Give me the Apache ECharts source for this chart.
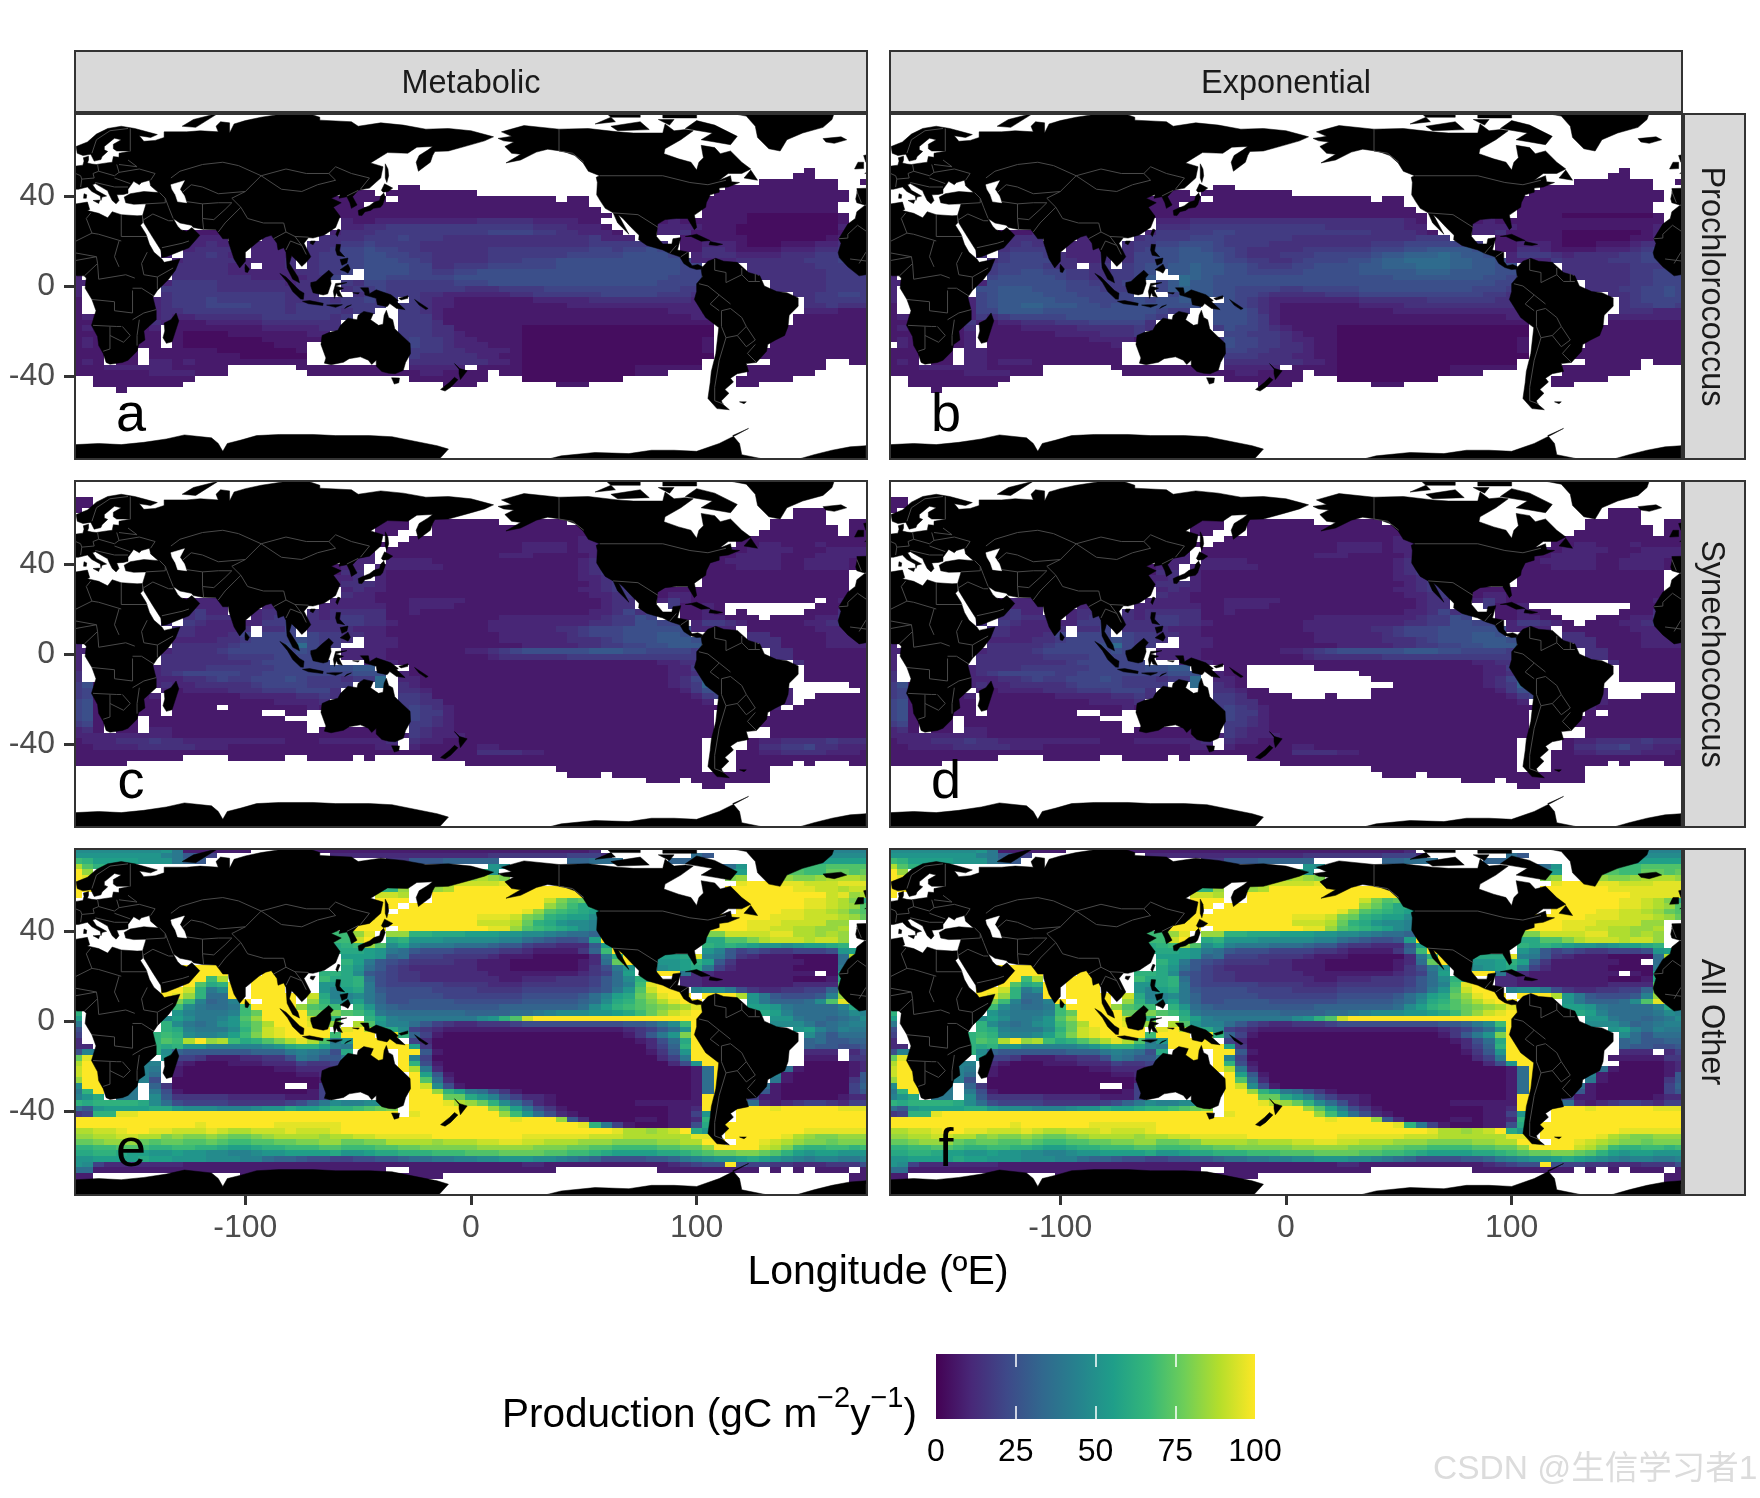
<!DOCTYPE html>
<html><head><meta charset="utf-8">
<script src="https://cdn.jsdelivr.net/npm/echarts@6/dist/echarts.min.js"></script>
<style>html,body{margin:0;padding:0;background:#fff}#c{width:1760px;height:1498px}</style></head>
<body><div id="c"></div>
<script>
// Value codes: a=0, b, c ... (step per panel family below), "." = no data, "-" = a group of ten "." ; each row: 7 groups of 10 columns + 1
const columnCentres=[-175,-170,-165,-160,-155,-150,-145,-140,-135,-130,-125,-120,-115,-110,-105,-100,-95,-90,-85,-80,-75,-70,-65,-60,-55,-50,-45,-40,-35,-30,-25,-20,-15,-10,-5,0,5,10,15,20,25,30,35,40,45,50,55,60,65,70,75,80,85,90,95,100,105,110,115,120,125,130,135,140,145,150,155,160,165,170,175];
const colorTicks=[0,25,50,75,100];
const lonTicks=[-100,0,100];
const latTicks=[-40,0,40];
const columnTitles=["Metabolic","Exponential"];
const rowTitles=["Prochlorococcus","Synechococcus","All Other"];
const panelLetters=["a","b","c","d","e","f"];
const cyanoCodeStep=3.5, otherCodeStep=4;

const prochMetabolicStart=10;
const prochMetabolic=[
"- - - - - - .....c.... .",
"- - - - - - ....cc.... .",
"- - - - - - .ccccccc.. c",
"- - .........c c......... - ........cc cccccccc.. .",
"- - .....cc.cc cccccc.... - .......ccc ccccccccc. .",
"- - ...ccccc.c cccccccccc ccc.cc.... ......cccc ccccccccc. .",
"- - ...ccc.ccc cccccccccc cccccc.... ......cccc cccccccc.. .",
"- - ...ccccccc cccccccccc ccccccc... ......cccc cccccccc.. .",
"- - ...ccccccc cccccccccc cccccccc.. ......cccc bbbbbbbbc. .",
"- - ....dccddd ddddddeeee eddddcc... ..cdcc.ccc bbbbbbbbc. .",
"- - ....ddeeff ffffffffff feeedddc.. ..dddd.ccb bbbbbbbbd. .",
"- ccccc..... ....eeefff fffffffggg gffeedddc. ..dde.cccb bbbbbbbbcd .",
"- cddd....dd ..eeeefffg fffeeeeeee eeeeeefddd .....dcccc bbbbbbbcde .",
"- ddedd..ddc ..eeffgfff feeeeeeeee eeeeeeffff ffe...dddc bbbcccddef .",
"- deeee..ddd ..efgghggf feeeeeefff ffffffggfg ghg...eedc cccdddeefg .",
"........d. eefed..ddd ..ffgghhgg ffeeeeefff ffffgggggh hhhg..eeed dddeeefffg .",
".........d eeeeedddde ..ffgghhhg gfeeeeefff ggghhhhhhh hhhhg....e eeeeefffgg .",
".........e eeeedd.dde .effgghhhh ggeefffggg ggghhhhhhh hhhhgg.... ..eeeeffff .",
".........e eeeedddddd eeffg.hhhh ggffgghhhh hhhhhhhhhh hhhhggg... ...eeeefff f",
"d........e eeeeeedddd deeg..hhgg gggghhhhhh hhhhhhhhhh hhhggg.... ...eeeefff f",
"dd.......f fffeeeeeed eee.feggff ffffggghhh hhhhhhhhhh hhggggf... ....eeefff f",
"d.......ff fffeeeeeee ee..effgff fffffeeeff ffgggggggg ggggfff... ....eeefff f",
"d.......ef fffffffffe ee...efgff feedddddde effffffggg ggfffe.... .....effgg f",
"c.......ef ffgffffffe eefeffgff. feddcccccc cdddddeeee eeeeed.... .....effff f",
"c.......ef ffggggfffe ffffffff.f feddcccccc ccccdddddd dddddd.... .....eefee e",
"c.......ee fffffffffe ffffe....f fedccccccc cccccccccc cccdddc... .....dddcc c",
"cd......ed deeeeeefff fffe.....f ffdccccccc cccccccccc cccccdd... ....cccccc c",
"cc.....edc ccdddddeee eee......f ffeccccccc cccccccccc ccccccc... ....cccccc c",
"cd.....d.c cccccccddd dde....... ffeecccccc bbbbbbbbbb bbbbbbb... ...ccccccc c",
"cc.....c.c bbbbcccccc cdd......f ffeedccccc bbbbbbbbbb bbbbbbb... ...ccccccc c",
"cd.....c.c bbbbbbbccc cc........ gffeddcccc bbbbbbbbbb bbbbbbc... ..cccccccc c",
"cd.....c.c bbbbbbbbcc c......... gffedddccc bbbbbbbbbb bbbbbbc... ..cccccccc c",
"cc.....ccc cccbbbbbbb c......... fffeeddddc bbbbbbbbbb bbbbbbc... .ccccccccc c",
"cc.....ccc cccccbbbbb b......... feeeeeddcc bbbbbbbbbb bbbbbbb... .ccccccccc c",
"cd.....ddc dccccccccc c......... eeeeeeeddc bbbbbbbbbb bbbbbb.... ..ccccc..c c",
"cccddddddc cccc...... ccc....... ddddd.cccc bbbbbbbbbb cccccc.... ccccccc... .",
"cccccccddd dccc...... .ccc...... cddd..c.cc bbbbbbbbbb ccc....... cccccc.... .",
"..cccccccc c......... - ccccc.c... bbbbbbbbb. .........c cccc...... .",
"..cccccccc - - ...ccc.... ...ccc.... .........c c......... .",
"....c..... - - - - - - ."
];

const prochExponentialMiddle=[
"- - ....dddeee eeeeeeeeee eeeeeedc.. ..cdcc.ccc ccccccccc. .",
"- - ....eeefff fffffffffe eeeeeedd.. ..dddd.ccc ccccccccd. .",
"- cccd...... ....fffffg gfffffffff fffeeeedc. ..dde.cccc bbbbbbbcd. .",
"- deee....dd ..effffggg ffffffeeee eeeeeeefff .....dcccc bbbbbbccde .",
"- eefee..ddc ..ffgghhhg ffffeeeeee eeefffgggg ggf...dddc bbbcccdeef .",
"- effff..ddd ..fghhiihg gfeeeeefff fffggghhii iih...eedc cccdddefgg .",
"........e. fgggfe.dde ..gghhiiih gfeeefffgg ggghiijjjk jiih..fffe deeeeffggg .",
".........e fggggeedde ..gghhiiih ggffeefggg ghhijjkkkk jjiih....f eeeefffggg .",
".........f ggggfee.ef .fghhiijii hhgfffgghh hhiijjjkkk jjiihh.... ..eeeefffg .",
".........f gghhggffee ffgh.iijii hhggggghhh hhiiiiijjj iiiihhg... ...eeeffgg g",
"d........g hhhhhgffee ffgi..kjih hhhhhhhhhh hhhhhiiiii iiihhg.... ...eeeffgg g",
"dd.......h hhhhhhggff fgh.gikiih hhhhhhhhhh hhhhhhhhhh hhhhggf... ....eeffgg g",
"d.......hh iiihhhgggf ff..gijiih hggggffggg gghhhhhhhh hhgggff... ....effggh g",
"d.......gh iiiihhhggg gg...gijih hggfeeeeef ffgggggggg gggffe.... .....efggh g",
"d.......gh iiiiihhhgg gghghhii.. hgfedddddd ddeeeeeeff ffffee.... .....efggg g",
"c.......gh iijjiiihhg hhhhhhhh.h hgfedccccc ccddddeeee eeeeee.... .....effgg f",
"c.......gg iiiihhhhhh hhhhg....h hhgedccccc cccccddddd ddddddd... .....eeedd d",
"cd......fe fggggghhhh hhhg.....h hhgfdccccc cccccccccc cccccdd... ....dddddd d",
"cc.....fdc ddeeefffgg ggg......h hhgfdccccc cccccccccc ccccccc... ....cccccc c",
"cd.....e.c ccdddddeee eef......h hggfedcccc bbbbbbbbbb bbbbbbb... ...ccccccc c",
"cc.....d.c cccccdddde eef....... ggfffedccc bbbbbbbbbb bbbbbbb... ...ccccccc c",
"cd.....d.c ccccccccdd dd........ hggffeddcc bbbbbbbbbb bbbbbbc... ..cccccccc c",
".d.....d.c cccccccccc d......... hggffeedcc bbbbbbbbbb bbbbbbc... ..cccccccc c",
"cc.....ddc cccccccccc c......... ggffeeedcc bbbbbbbbbb bbbbbbc... .ccccccccc c",
"cc.....ddc cccccccccc c......... fffeeeddcc bbbbbbbbbb bbbbbbb... .ccccccccc c",
"cd.....ddc dddccccccc c......... eeeeeeeddc bbbbbbbbbb bbbbbb.... ..ccccc.cc c"
];
const prochExponential=[...prochMetabolic.slice(0,9),...prochExponentialMiddle,...prochMetabolic.slice(35)];

const synMetabolicStart=3;
const synMetabolic=[
"cc........ - - - - - - .",
"cc........ - - - - - - .",
"c......... - - - - - ....ccc... .",
"- - - - - - ....ccc... .",
"- - .......ccc ..cccccc.. cccc...... - ..ccccc..c c",
"- - .......ccc ..cccccccc ccccccc... - ..cccccc.c c",
"- - .......cc. ..cccccccc cccccc.... - .ccccccc.c c",
"- - - cccccccccc cccccdd... .........c cccccccccc c",
"- - .......c.c cccccccccc ddddcddd.. .........c cddcccdccc c",
"- - .....cc.cc cccccccccc ddddcddf.. .......cdc ddddcccddd d",
"- - .....cd.cc ccccccccdd dcccccdf.. .......ccd dddcccdddd d",
"- - .....dd.dd ddcccccccc cccccdeg.. ......ccdd dddccddddc .",
"- - ...cdd.ddd dddccccccc cccccdef.. ......cccd dddccddddc .",
"- - ...cee.dcc cccccccccc cccccdefg. ......cccc ccccccccc. .",
"- - ...dde.dcc cccccccccc cccccddef. ......cccc ccccccccc. .",
"- - ...deeedcc cccccccccc ccccccdefg ......cccc ccccccccc. .",
"- - ....deddcc cccccccccc cccccddeff ..cccc.ccc ccccccccc. .",
"- - ....eddccc cccccccccc ccccccddef ..cddc.ccc ccccccccc. .",
"- cddd...... ....dddccc dddddccccc cccccccdee ..dfdccccc cccccc.cdd .",
"- dddd....ee ..ddddddcc ddddcccccc cccccccdee ...fe.dc.. ......cccd .",
"- efdd..eeee ..deeeeecc dccccccccc ccccccddeg eg...ddc.c .....ccced .",
"- efeee..eff ..deffeecc ccccccccdd dddddddeff hg...dddcc c.ccccddfh .",
"........e. fedddd.ffg ..eeffeedc cccccccddd ddddddeeff hhgg..ffed cccccddegh .",
".........e edddde.eeg ..eeedddcc cccccccddd dddeefgggh hhhhh..... ccccccddde .",
".........e edddeg.ggg .gffeeddcc ccccccccdd ddddefgggh hhiih..... ..cccccddd .",
".........d dddeefgggg hgffe.dddc ccccccccdd ddddeeefgh hhiiih.... ...ccccddd d",
"d........e eeeefggggh kgff..dddc cccccccccc dddddeeffg ghhiii.... ...ccccddd d",
"dd.......e eeefgggggg hgg.ddddcc cccccddefg hhhhhhiiih hggggfg... ....cccccc c",
"d.......ee eeeeffffgg gg..ddddcc cccccccdee eeeeffffff ffffffg... ....cccccc c",
"d.......ee eeeeeefggg ggg...dddc cccccccccc cccccccccc ccddeeg... .....ccccc c",
"d.......ee eeffffffgg ggghhii... cccccccccc cccccccccc cccddfh... .....ccccc c",
"e.......ef gggggffggg ggggghhh.d cccccccccc cccccccccc cccddei... .....ccccc c",
"e.......dd eefgffgggh gfffe..k.d dccccccccc cccccccccc cccdegj... .....ccccc c",
"fh......ed deeeeefggg gfffe..k.e dccccccccc cccccccccc cccdefjj.. .........c c",
"fg......dc ddddeeefff ggg......e edcccccccc cccccccccc ccccdfhi.. ...d...... c",
"fg.....d.c cccccddddd eef......f fecccccccc cccccccccc cccccdfg.. ...d..cccc c",
"gh.....c.c ccccccccdd dde......f feeccccccc cccccccccc ccccccd... ...d.ccccc c",
"gh.....c.c ccc.cccccc cd.......f gfedcccccc cccccccccc cccccccc.. ..d.cccccc c",
"gh.....c.c ccccccc..c c......... gffdcccccc cccccccccc ccccccc... ..cccccccc c",
"gh.....ccc ccccccccc. - gfedcccccc cccccccccc ccccccc... .ccccccccc c",
"fg.....ccc cccccccccc c......... ffedcccccc cccccccccc ccccccc... .ccccccccc c",
"de.....ddc cccccccccc c......... feddcccccc cccccccccc ccccccc... ..cccccccc c",
"dddddddddc cccccccccc cc......dd fedddccccc cccccccccc ccccccc... ..cccccccc c",
"cdddeeefee dddddddddc ccdddddde. edd...cccc cccccccccc cccccc.... cddeeeefee e",
"ccddddeeee edddcccccc cccccccdd. dcc...ddcc cccccccccc cccccc.... ceeffgeedd d",
"cccccccccc cccccccccc cccccccccc ccccc.eeee ddcccccccc cccccc...c cddeeeeddd c",
"cccccccccc ....ccccc. .cccc.c... ..cccccccc cccccccccc cccccc...c cccccccccc c",
"ccccc..... - - .....ccccc cccccccccc cccccc...c cccc.c...c c",
"- - - - ...ccccccc cccccc...c cc........ .",
"- - - - ....ccc.cc cccccccccc cc........ .",
"- - - - - .ccc.ccccc cc........ .",
"- - - - - ......cc.. - ."
];
// Cells next to coasts: [firstRow,lastRow,firstCol,lastCol,code]
const coastCells=[
[36,44,2,2,"c"],[33,36,7,7,"d"],[30,30,8,8,"d"],[38,41,6,6,"c"],[41,44,5,5,"c"],[42,44,4,4,"c"],
[27,27,60,61,"e"],[28,28,60,62,"e"],[29,29,61,62,"e"],[30,31,62,63,"e"],[32,32,64,64,"e"],
[23,25,16,16,"d"],[22,22,17,17,"d"],[23,26,21,21,"e"],[21,21,23,23,"d"],
[19,20,56,56,"c"],[21,21,55,55,"c"],[22,24,54,55,"c"],[25,25,55,55,"d"],[26,26,55,58,"d"],
[46,48,33,35,"c"],[35,35,25,26,"f"],[36,36,24,24,"f"],[37,38,23,23,"e"],[40,40,22,22,"c"],[38,38,29,29,"f"],[40,40,29,29,"f"]
];
const prochCoastCells=[...coastCells,[45,45,22,27,"c"],[46,46,22,29,"c"]];
const synCoastCells=[...coastCells,[44,45,22,27,"c"]];
// Exponential Synechococcus: same field as Metabolic except these cells
const synExponentialCells=[
[40,40,13,13,"c"],[21,21,66,66,"c"],[22,22,57,65,"."],[23,23,58,58,"c"],[23,23,59,64,"."],[24,24,60,62,"."],[25,25,61,61,"."],
[36,37,64,69,"."],[38,38,64,66,"."],[39,39,64,64,"c"],[40,40,63,63,"c"],[41,41,63,63,"."],
[33,33,32,37,"."],[34,34,32,41,"."],[35,35,32,42,"."],[36,36,32,44,"."],[37,37,34,42,"."],[38,38,36,38,"."],[38,38,40,42,"."],
[51,51,43,44,"c"],[53,53,50,50,"."]
];

const otherMetabolicStart=0;
const otherMetabolic=[
"mmmmmmmmnk cccccc.... .ccccccccc cccccccccc ccccccd... - ......llll l",
"nnnnnnnnlk hhf....... ...ddddddd dddddddeee eeeefffd.. .....jh... ......mmmm m",
"rqoooonnnk ih........ ........ee hhhiiiii.. ....iijjj. ...iij.... ......oooo o",
"wsqpp..... - - .......nm. - .......hjn ....qrrsss s",
"zv........ - - .....qqn.. - ........oo ...ssrrtts t",
"zy........ - - ...uvvwvu. - ........uv ...vuuvwww v",
"zz........ - - ..wwxxxxyy - .........y zzzyyxxxyy y",
"zz........ - .......qqv ..vwzzzzzz zzzzz..... ........zz zzzzyyxxwx x",
"z......... - .......xxw ..zzzzzzzz zzzzzzz... ........zz zzzzzzzxyv w",
"- - .......zzz ..zzzzzzzz zzxustz... ........zz zzzzzyyxwu p",
"- - .......zz. zzzzzzzzzz zzvtrpqz.. .........z zzzzzyyxwv s",
"- - .......z.z zzzzzzzzzz yvsrqpoz.. .........z zzzyyxxwvt s",
"- - ......wzzz zzzzzzyyyx utqpoomz.. .......zzz zzyyyxxxwv t",
"- - .....zzzzz zzzzzzxxxw tqpnmmlz.. .......zzz yyyxxxxvv. .",
"- - .....zzz.z zzzzzzzyyv srqpomlz.. ......zzzz yyxxwwvvw. .",
"- - ...rrvy.vv qqpppooonn mmlkjjiqz. ......uuxx xxyywwvwv. .",
"- - ...rrxz.pq nnnmmmmmll jihgghoz.. ......ppss uwxxxwxxv. .",
"- - ...pqrvsmo lkkkjjjihh feedddhoz. ......qpqp onnmnoopq. .",
"- - ...ppponkj hgggffffee dcccceirz. ......nlhf gfeefffgno .",
"- - ....ooonij fffeeeedcc cbbbbbdkqz ..oopy.khe dcccbbbbjw .",
"- - ....qokhgf eeeeddcccb bbbbbcdjtz ..nnoqohec cccccbbbjx .",
"- zzzz...... ....pnjhfe ddddddcccb bbbbbcegkn ..mnopkfdc ccccbbbbks .",
"- zzzz...zz. ..qqpmhgfe eddddddccc cccccdefjo .rzzk.dccc cccccc.bot .",
"- zzrw..zzz. ..rppqjgfe edddddddcc dddeeefhjm qr...dcccc ccccbbbcpz .",
"- zspqz.zzz. ..nnpqkgff fffeeeeddd eeeeeefhjl ryz..dcccc ccccddddsz .",
"........zz xqkmz.zzz. ..nlopkhgg ggffffeeee ffffffghkn sxzz..mmkg eddeeffitz .",
"........zy vqjjz.zzzz .xpllmkigg gggfffffff ggggghjlop tvyzz.zzzw nkhggghlvz .",
".........u rlijlz.zzz .vqmmokigg hhhhgggggg hhhhhijmpq suwyzz.... nkiiijmsy. .",
".........r mkjjkrzzzz vsrr.qnjih hhhhhhhhii iiiiijmoqr stuvwyzz.. ..nkjjjjlp .",
"q........n lkkklrtzzz zttusrpkjj jjjjjiiiij jklmmmnnop rtvxyzz... ..oljjjjkm l",
"o.......mo mkklnsvzzz zxvq..qolk kkkkkkmnqs xzzzzzzzzz zzzzzzz... ...nkjjijk m",
"k.......qm kjkmnrtwzz zyuv.wsnll jhfeddeeef gggggggggh hikmrz.... ....mkijkl l",
"g.......qp lkkkmqtxyz zzz.yzwqpm fedccccccc cccccccccd efhjnz.... .....oljlk k",
"f.......rq mllmoruxyz zzzrzzz.yq ifcbbbbbbb bbbbbbbbbc ehknuz.... .....mjhjj j",
"d.......sr wzvwrpqsuw ywsknzzzz. fdbbbbbbbb bbbbbbbbbb cdgjpz.... .....ijhhi i",
"dd......pq nnlllllmnp qqolkzzzzz oebbbbbbbb bbbbbbbbbb bdfiqzz... .....ihhgg h",
"gl......mi hhhhhhiiik lkjgp.zz.z zhcbbbbbbb bbbbbbbbbb bcehnzz... .....ddd.d f",
"ty......nf fecccddeeg kjhhk.zz.z lfbbbbbbbb bbbbbbbbbb bbdfkzzz.. .....ccc.e e",
"wz.....l.d cbbbcccddd feefk....z qgcbbbbbbb bbbbbbbbbb bbbdgnzz.. .....bbbbc d",
"xz.....k.c bbbbbbbbcc ddddf....z wkdbbbbbbb bbbbbbbbbb bbbbbcjz.. ...jcbbbbc d",
"xz.....j.c bbbbbbbbbb ccdh...... zohcbbbbbb bbbbbbbbbb bbbbbcjz.. ..lcbbbbbc h",
"vz.....g.b bbbbbbbbbb bbcf...... zsjdbbbbbb bbbbbbbbbb bbbbbcjz.. ..kcbbbbbe h",
"mzz....ieb bbbbbbbbb. .bf....... zxmgcbbbbb bbbbbbbbbb bbbbbcjz.. .jcbbbbbbf i",
"kqz....kgc bbbbbbbbbb bcf....... zzvqokjgec bbbbbbbbbb bbbbbcjz.. .hcbbbbbbf h",
"lnp....mhe eeeedddddc ccf....... zzzttpnlhf ddcbbbbbbb bbbbbcz... fccbbbbbcd d",
"qpqqqqpmjg ffffeeeeef gikmllmm.. zzzywvtqmj gdcbbbbbbb ccccccz... jdcdeffedf f",
"jhnooooppn mmmlllmnnp oopqqrstu. zzzz..zvso kgecbbbbbb bbbccdz..z zzyzzzzzyy y",
"efqqyyzzzz zzzzzzzzzz zzzzzzzzz. yzzz..zzvr njgdcbbbbb bbbccfn..z zzzzzzzzzz z",
"zzzzzzzzzz zzzzzzzzzz zzzzzzzzzz zzz...zzzy zzzvhdbbbb ccbccdq..z zzzzzzzzzz z",
"zzzzzzzzzz zyzzzzzzyy yyyyzzzzzz zzzz.zzzzz zzzzzyqkfc bbbccgp.zz zzzzzzzzzz z",
"wwxxyzzyyx xxyxwwxxxy xxxyzzzzzz zzzzzzzzzz zzzzzzzzyw wvwxzpn.zz zzzzzyyyyy y",
"vvwwxxwwuv uuvuttuvww wwvwwxxyyy yyzzzzzzzz yyyyyyxxxw wwwwwyy.zz zzzywvuuvv v",
"ttuvvvtstt sstsrrsstt uuvvttuuww wwvwwwxxyy xxwwwvvvuu uuvvwwzz.z zyxwvuutuu u",
"qqrrssrqqr rqqpoopqqr rrssrrrsst tuuuuuvvvv vuuuttssrr rrssttvzzz zxwurqqrrq r",
"ppqqpoonno nnmmllmnno ooopnnoppq qqrrrssstt ttssrrqpoo ooppqrsttu utsqonoonn n",
"nnoooopoon nnmmmlljii hggffgghhi jjkkllmmnn nmmlkjiggg ghhiklmnno ponmlkllkk l",
"nmfddddddd cccccccccc cccccccccc cccccccccc ddcccccccc cccdefgzgg ffeedddeee g",
"jjcccccccc cccccccccc cccccccc.. cccccccccc ccc....... ..cccccccc c.c.c.ccc. c",
"cc........ .....ccccc cccccccccc ccc....... - - .........c c",
"cc........ - - - - - .........c c"
];
const otherCoastCells=[
[36,36,2,2,"k"],[37,41,2,2,"z"],[33,36,7,7,"q"],[38,41,6,6,"l"],[41,44,5,5,"k"],[42,44,4,4,"k"],
[19,19,56,56,"l"],[22,22,55,55,"d"],[23,24,54,54,"d"],[25,25,55,55,"l"],
[28,28,60,61,"o"],[29,29,60,61,"p"],[30,30,62,62,"n"],[31,31,62,63,"m"],[32,32,64,64,"n"],
[46,47,34,35,"z"],[48,48,33,35,"z"],[49,49,34,34,"z"],[56,56,57,57,"g"],[56,56,58,58,"z"]
];
// Exponential All Other: same field as Metabolic except these cells
const otherExponentialCells=[
[22,22,66,66,"c"],[22,22,65,65,"."],[20,20,67,67,"."],[37,37,64,64,"c"],[37,37,68,68,"c"],[19,19,51,53,"p"],
[7,8,66,70,"y"],[35,35,26,28,"z"],[47,47,5,5,"z"]
];

// Simplified coastlines [lon,lat]
const landPolygons=[
[[-5.5,36],[-9,37],[-9.5,38.7],[-8.8,42],[-9,43.3],[-3,43.5],[-1.5,43.5],[-1,45.5],[-2.5,47.3],[-4.7,48.3],[-1.5,48.7],[0.2,49.5],[2,51],[4,52],[5,53.3],[8,53.7],[8.5,55.5],[8.2,57],[10.5,57.7],[10.5,56],[10,54.7],[12,54.2],[14,54],[18.5,54.7],[21,55],[21.5,57.5],[24,57.2],[24,59],[29.5,60],[23,60],[21.5,61],[21.5,63],[25,65],[22,65.7],[17.5,62],[17.5,60.5],[19,59.8],[16.5,57.5],[16,56.2],[13,55.5],[11.5,58.5],[8,58],[5.5,59],[5,62],[10,64],[14,67.5],[19,70],[25,71],[31,70],[41,67.3],[38,66],[33,66.8],[35,64.3],[40,64.7],[44,66],[44,68.5],[54,68.5],[60,69],[68,68.5],[67,71],[69,73],[73,72.5],[73,68],[75,72],[80,73.5],[87,75],[100,77],[105,77.7],[113,75],[113,73.7],[127,73],[130,71],[140,72.5],[150,71.5],[160,69.7],[170,70],[180,69],[190,66.3],[186,64.5],[179,62.5],[170,60],[164,59.8],[163,58],[162,55],[158,52],[156.7,51],[155.7,55],[157,58],[161,60.5],[163,62],[156,61.7],[152,59],[143,59.3],[135.5,54.7],[141,53],[140,48],[135,43.5],[130,42.5],[127.5,39.7],[129.5,36],[127,34.5],[126.3,37],[125,39.7],[121.5,39],[122,40.7],[118,39],[122.5,37],[119,35],[122,31],[120,26],[115,22.7],[110,21.3],[108,21.5],[106,19],[109,13],[107,10.5],[105,8.7],[103,11],[100.5,13.5],[99.5,10],[103.3,4],[104,1.4],[101,3],[98.5,8],[98,15],[97,17],[94.5,16],[94,19],[91.5,22.5],[89,21.8],[86,20],[80,15],[80,11],[77.5,8],[75,12],[72.7,19],[72.5,21],[70,21],[67,25],[61,25.2],[57,26],[56,27],[51,28],[48,30],[50,26.5],[51.5,25],[54,24.2],[56.3,26],[59.8,22.5],[55,17],[45,13],[43,12.7],[42.5,16],[39,21.5],[35,28],[34.5,31.5],[36,36.5],[30.5,36.3],[27,37],[26.3,39.5],[29,41],[35,42],[41.5,41.5],[38,44.5],[37.5,47],[34,46],[33,45],[30.5,46.5],[28,43],[28,41.2],[26,40.7],[23,40.5],[24,38],[22.7,36.5],[21,38],[19.5,41],[19,42.3],[13.5,45.5],[12.3,45],[14,42.5],[18.5,40],[16.5,39.5],[16,38],[15.7,40],[12,42],[10,44],[6,43],[3,43],[3,41.5],[0,39.5],[-0.5,38],[-2,36.8]],
[[-5.5,35.8],[-1,35.5],[10,37.3],[11,34],[10,33.5],[15,32.3],[19,30.3],[21,33],[25,31.7],[32,31.2],[34.3,31.3],[34.5,28],[33.5,27],[36,23],[37.5,18.5],[39.5,15],[43,12],[44,10.5],[51,12],[49,7],[46,3],[41,-2],[39,-5],[40.5,-11],[40.5,-15],[35,-20],[35.5,-24],[32.7,-26],[32,-29],[28,-33],[25.5,-34],[20,-34.8],[18.3,-34],[17,-30],[15,-26.5],[14.5,-22.5],[11.8,-17.5],[13.8,-11],[12,-6],[9,-1],[9.5,3.5],[8.5,4.5],[5.5,4.5],[1,6],[-4,5.2],[-8,4.5],[-13,8.5],[-16.7,12.5],[-17.3,14.8],[-16,19],[-17,21],[-13,27.5],[-9.7,30],[-9,33]],
[[49.3,-12],[50.5,-15.5],[47.5,-24.8],[45,-25.5],[43.5,-23],[44.3,-20],[44,-16.5],[47,-15]],
[[80,9.7],[81.8,7.5],[81,6],[80,6.2],[79.8,8]],
[[95.3,5.6],[98,4],[104,-2],[106,-3.2],[105.7,-5.9],[104.5,-5.8],[101,-2.5],[98.7,1.5]],
[[105.3,-6.8],[108.5,-6.5],[114.5,-7.7],[114.3,-8.7],[108,-7.9]],
[[109,1.5],[111.3,2],[113.8,4.3],[117,7],[119,5],[117.7,3.5],[118,1],[116.5,-3.5],[114.5,-4],[110,-3],[109,0]],
[[119.5,-5.5],[120.4,-3],[121,-4.5],[123,-5],[121.5,-2],[123.5,-1],[120,0],[125,1.5],[120,1.1],[119,-2.5]],
[[120.3,18.5],[122.2,18.4],[121.7,15.5],[124,13],[120.7,13.7],[120,16]],
[[122,7.2],[125.5,9.7],[126.5,7.5],[125.5,5.7],[124,6.5]],
[[122,11.8],[125.5,12.4],[125,10.2],[122.8,9.2]],
[[131,-0.8],[134.5,-0.8],[135,-3.4],[138,-1.7],[144.5,-3.9],[147.8,-6.5],[147,-7],[150.8,-10.5],[147,-10],[144,-7.8],[142.8,-9.2],[138.5,-8.3],[138,-5.5],[133,-4],[132.8,-2.8]],
[[116,-8.5],[119,-8.3],[123,-8.3],[120,-9.5]],
[[124,-10],[127,-8.4],[125,-9]],
[[127.5,-3],[130.5,-3],[130,-3.6]],
[[148,-5.5],[152,-4.3],[152,-5.5],[149,-6.2]],
[[155,-6],[158,-8],[161,-10],[160,-10.5],[157,-8.5]],
[[121,25.3],[122,25],[120.8,22],[120.1,23]],
[[109,20],[111,20],[110,18.3],[108.7,19]],
[[130,33.5],[131,34],[135,35.7],[137,37.2],[139.5,38],[140,40],[141.3,41.3],[142,39.5],[140.8,36],[139.8,35],[136.8,34.5],[135.5,33.6],[133,33],[131.7,31.3],[130.3,31.4]],
[[140.3,42.5],[141.7,45.4],[145.3,43.5],[143.3,42],[141,41.7]],
[[142,54.3],[143.2,52],[143.5,49],[142.7,46],[142,48],[142,51]],
[[114,-22],[113.5,-26],[115.7,-32],[115,-34.3],[118,-35],[123.5,-33.9],[126,-32.3],[131,-31.5],[134.5,-33],[136,-34.9],[138,-33],[138,-35.6],[140.5,-38],[143.5,-38.8],[146.4,-39],[150,-37.5],[151,-34],[153.2,-30],[153,-25.5],[149.5,-22.2],[146.2,-19],[145.3,-15],[143.5,-14],[142.5,-10.8],[141.5,-13],[141,-17],[139,-17.5],[135.5,-15],[136.7,-12.2],[132.5,-11.3],[130,-13],[129.5,-15],[125.5,-14.3],[122.2,-17.5],[121,-19.7],[117,-20.7]],
[[144.8,-40.8],[148.3,-40.9],[148,-43],[146,-43.6]],
[[172.7,-34.5],[175,-36.7],[178.3,-37.7],[175.3,-41.6],[174.7,-39],[174.7,-37]],
[[172.7,-40.6],[174.2,-41.7],[171,-45],[168.5,-46.7],[166.5,-46],[170.5,-42.8]],
[[-168,65.6],[-162,66.5],[-166.5,68.5],[-156.5,71.3],[-141,69.7],[-128,70],[-115,68.5],[-108,68],[-95,68],[-94,72],[-90,69],[-85,69.5],[-81.5,69],[-87,65],[-94,61],[-94.5,58.8],[-88,56.5],[-82.5,55],[-80,51.5],[-79,55],[-77,57],[-78,62.5],[-72,61.5],[-69.5,58.8],[-65,60],[-60,55],[-56,52],[-60,50],[-66,50],[-70,47],[-65,49],[-64.5,46.3],[-61,46],[-66,44],[-70,43.5],[-70,41.7],[-74,40.5],[-75.7,37],[-76,35],[-81,31.5],[-80,26],[-81,25],[-82.8,28],[-84,30],[-89,30],[-94,29.5],[-97.3,27.5],[-97.8,22],[-95,18.7],[-91,18.7],[-90.5,21],[-87,21.5],[-88.5,16],[-83.5,15],[-83.5,11],[-82,9],[-79.5,9.5],[-77.3,8.5],[-78,7.5],[-80,7.3],[-83,8.2],[-85.7,10],[-87.5,13],[-92,14.5],[-95,16],[-102,18],[-105.7,20.5],[-105.5,22.5],[-109,26],[-112.7,30],[-114.7,31.7],[-112,26.7],[-110,23],[-112,25],[-115,28],[-117,32.5],[-120.5,34.5],[-122.5,37.5],[-124.3,40.5],[-124,46],[-124.5,48.3],[-123,49],[-128,51],[-130.3,54.7],[-134,58],[-139,59.8],[-146,60.8],[-151,59.5],[-153,58.5],[-158,56],[-164.5,54.7],[-158,58.5],[-162,59],[-165,62],[-161,64],[-165.5,64.5]],
[[-77.3,8.5],[-75,11],[-71.5,12.3],[-68,11],[-62,10.5],[-57,6],[-52,4.5],[-50,0],[-44.5,-2.5],[-40,-3],[-35,-5.3],[-35,-9],[-39,-13],[-39.5,-18],[-41,-22],[-45,-24],[-48.5,-26],[-49,-29],[-53.5,-34],[-58,-34.5],[-57,-38],[-62,-39],[-65,-41],[-63.7,-42.7],[-67.5,-46],[-65.7,-47.7],[-69,-51],[-68.5,-52.5],[-65.5,-55],[-71,-54.5],[-75,-50],[-74,-43],[-73.5,-38],[-71.5,-30],[-70.2,-18.5],[-76,-14],[-81,-6],[-80,-2.5],[-80,1],[-77.5,4],[-78,7.5]],
[[-73,78.3],[-60,82],[-30,83.5],[-18,80],[-20,74],[-24,70.5],[-33,68],[-40,65],[-43,60],[-48,61],[-53,66],[-54,71],[-58,75.5]],
[[-24,65.5],[-16,66.3],[-13.5,65],[-19,63.4],[-22.7,64]],
[[-5.5,50],[1.3,51.2],[1.5,52.8],[-1.5,55],[-2,57.5],[-3.5,58.6],[-6,58],[-5,55],[-3,54],[-4.7,52.5],[-3,51.3]],
[[-10,52],[-6,52.2],[-6,55],[-8.5,55]],
[[-80,73.5],[-72,71.5],[-62,66.5],[-65,62.8],[-72,64],[-78,65],[-73,68],[-85,70]],
[[-118,71],[-105,73],[-101,69.5],[-115,69]],
[[-125,72],[-118,75],[-116,73]],
[[-95,76.8],[-80,76.8],[-80,74.7],[-95,74.7]],
[[-120,76.8],[-105,76.8],[-105,75],[-118,75]],
[[-97,74],[-90,74],[-92,71.5]],
[[-59,48],[-53,47],[-56,51.5]],
[[-85,22],[-80,23],[-74,20.2],[-78,19.9],[-82.5,22]],
[[-74,19.8],[-68.5,18.5],[-71,18],[-74.5,18.3]],
[[52,71],[57,74],[68,76.8],[58,70.5]],
[[12.5,38],[15.5,38.2],[15,36.7]],
[[8.5,41],[9.7,40.5],[9.5,39],[8.3,39]],
[[-61,-51.5],[-58,-51.5],[-59,-52.3]],
[[-5,-71],[5,-70.5],[15,-70],[25,-70.5],[35,-69.5],[45,-68],[53,-66.2],[65,-67.5],[68,-70],[70,-73.5],[72,-70],[78,-68.5],[85,-66.5],[95,-66],[110,-66],[120,-66.5],[135,-66.5],[145,-67],[155,-69],[165,-71],[170,-72.5],[165,-78],[180,-78],[210,-78],[220,-75.5],[235,-74],[250,-74.5],[260,-73],[270,-73],[280,-73.5],[290,-70],[298,-66],[303,-63.3],[296,-66.5],[299,-70],[300,-75],[315,-78],[325,-77],[332,-75],[340,-73],[348,-71.5],[355,-71],[355,-90],[-5,-90]]
];
const lakePolygons=[
[[47,45],[53,46.8],[51,43],[53,40],[54,37],[50,37.5],[49,40.5],[47.5,43]]
];
const borderLines=[
[[25,31.5],[25,22],[36.5,22]],[[25,20],[15,23],[12,23.5],[9.5,30],[11.5,32.5]],[[-8.7,27],[3,19],[12,23.5]],[[-17,21],[-13,21.3],[-13,23],[-8.7,27]],[[3,15],[4,19.5]],[[3,6.5],[3,11],[14,13],[14.5,10],[8.7,4.5]],[[24,20],[22,13],[24,8.5]],[[14.5,10],[15,3],[27,5],[31,3.5]],[[36.5,15],[34,10],[35,5],[41,4],[48,8]],[[41,4],[41,-1.5]],[[34,-1],[39.5,-4.5]],[[30,-1],[34,-1]],[[12,-6],[22,-7],[22,-11],[30,-12],[30,-2]],[[12.5,-17.5],[23,-18],[25,-18]],[[20,-18],[20,-28],[17,-29]],[[30,-15],[35,-12],[40.5,-10.5]],[[33,-15],[32,-22],[32,-26.5]],[[20,-22],[26,-25],[29,-22],[25.5,-18]],[[-12,12],[-4,11],[3,11]],[[-8,10],[-5,15],[3,15],[14,13]],
[[-1.5,43.4],[3,42.5]],[[2.5,51],[7,49],[7.5,47.5],[7,44]],[[14.5,54],[15,51],[12.5,50],[13,48],[7.5,47.5]],[[23,54],[24,50.5],[22,49],[15,51]],[[24,50.5],[33,52],[40,50],[38,47]],[[22,48],[29,45.5]],[[29,60],[29,70]],[[12,59],[14,65],[20,69],[28,70]],[[13.5,46],[22,44],[28,44]],[[28,56],[32,53],[24,54]],[[-9,42],[-7,37]],
[[47,48],[51,51],[61,54],[70,55],[77,53.5],[87,49]],[[87,49],[98,52],[107,50],[117,50],[120,53],[127,50],[135,48],[131,43]],[[87,49],[96,43],[105,42],[112,45],[120,47],[117,50]],[[87,49],[80,42],[74,39],[78,35],[81,30],[88,28],[97,28],[98,24],[102,22],[108,21.7]],[[52,41.5],[56,45],[61,44],[68,41],[80,42]],[[44.5,39],[46,35],[48,30]],[[54,37.5],[61,36.5],[61,30],[61.5,25]],[[61,30],[66,29.5],[71,34],[74,37],[68,37],[61,36.5]],[[68,24],[71,28],[75,32],[78,35]],[[36,36.5],[44.5,37]],[[35,29.5],[39,32],[46,29],[48,29]],[[43,17],[52,19],[55,20]],[[98,24],[92.5,21]],[[98,16],[100,20],[105,18],[107,14]],[[102,22],[105,18]],[[125,40],[130,42.5]],[[44.5,37],[44.5,39],[42,41.5]],
[[-141,60],[-141,69.7]],[[-130,55],[-135,59],[-141,60]],[[-123,49],[-95,49],[-83,46],[-75,45],[-67,47]],[[-117,32.5],[-106,31.7],[-97,26]],[[-92,14.5],[-89,18]],[[-72,12],[-72,7],[-67,6],[-67,1.5]],[[-79,1],[-75,0],[-70,-4]],[[-70,-4],[-74,-8],[-70,-11]],[[-69,-11],[-65,-10],[-60,-14],[-58,-18],[-62,-22],[-67,-23],[-69,-18],[-69,-11]],[[-67,-23],[-70,-33],[-72,-45],[-72,-51],[-68,-52.5]],[[-58,-18],[-54,-24],[-58,-27],[-62,-22]],[[-53.5,-34],[-57.5,-30],[-54,-26]],[[-60,8],[-60,5],[-57,2],[-52,2]],[[-67,1.5],[-60,5]],[[-54,5.5],[-54,2]],[[-87,13],[-84,15]],
[[-70,-4],[-65,-8]]
];

const viridis=["#440154","#482878","#3e4989","#31688e","#26828e","#1f9e89","#35b779","#6ece58","#b5de2b","#fde725"];

function expandRows(rows,start,step,...cellLists){
  const cells=new Map();
  rows.forEach((row,r)=>{
    const parts=row.split(' ');
    for(let g=0;g<7;g++){
      const part=parts[g]||'-';
      if(part==='-')continue;
      for(let k=0;k<part.length&&k<10;k++){ if(part[k]!=='.')cells.set((start+r)+':'+(g*10+k),part[k]); }
    }
    const last=parts[7];
    if(last&&last!=='.'&&last!=='-')cells.set((start+r)+':70',last);
  });
  cellLists.forEach(list=>list.forEach(([r1,r2,c1,c2,code])=>{
    for(let r=r1;r<=r2;r++)for(let c=c1;c<=c2;c++){ if(code==='.')cells.delete(r+':'+c); else cells.set(r+':'+c,code); }
  }));
  const out=[];
  cells.forEach((code,key)=>{
    const [r,c]=key.split(':').map(Number);
    out.push([columnCentres[c],76.25-2.5*r,(code.charCodeAt(0)-97)*step]);
  });
  return out;
}

const panelData=[
 expandRows(prochMetabolic,prochMetabolicStart,cyanoCodeStep,prochCoastCells),
 expandRows(prochExponential,prochMetabolicStart,cyanoCodeStep,prochCoastCells),
 expandRows(synMetabolic,synMetabolicStart,cyanoCodeStep,synCoastCells),
 expandRows(synMetabolic,synMetabolicStart,cyanoCodeStep,synCoastCells,synExponentialCells),
 expandRows(otherMetabolic,otherMetabolicStart,otherCodeStep,otherCoastCells),
 expandRows(otherMetabolic,otherMetabolicStart,otherCodeStep,otherCoastCells,otherExponentialCells)
];

const colLeft=[75,890], panelW=792;
const rowTop=[114,481,849], panelH=[345,346,346];
const latRange=[[-76.9,76.44],[-76.9,76.9],[-77.3,76.6]];
const ink='#333333';

const grids=[],xAxes=[],yAxes=[],series=[],graphics=[];
const landItems=[];landPolygons.forEach((p,i)=>{landItems.push([i,-180]);landItems.push([i,180]);});
const lakeItems=[];lakePolygons.forEach((p,i)=>{lakeItems.push([i,-180]);lakeItems.push([i,180]);});
const borderItems=[];borderLines.forEach((p,i)=>{borderItems.push([i,-180]);borderItems.push([i,180]);});

for(let r=0;r<3;r++)for(let c=0;c<2;c++){
  const idx=grids.length;
  grids.push({left:colLeft[c],top:rowTop[r],width:panelW,height:panelH[r],show:true,backgroundColor:'#fff',borderWidth:0});
  xAxes.push({type:'value',gridIndex:idx,min:-175.5,max:175.5,splitLine:{show:false},
    axisLine:{show:r===2,onZero:false,lineStyle:{color:'rgba(0,0,0,0)'}},
    axisTick:{show:r===2,customValues:lonTicks,length:10,lineStyle:{color:ink,width:3}},
    axisLabel:{show:r===2,customValues:lonTicks,color:'#4d4d4d',fontSize:32,fontFamily:'Liberation Sans',margin:17}});
  yAxes.push({type:'value',gridIndex:idx,min:latRange[r][0],max:latRange[r][1],splitLine:{show:false},
    axisLine:{show:c===0,onZero:false,lineStyle:{color:'rgba(0,0,0,0)'}},
    axisTick:{show:c===0,customValues:latTicks,length:11,lineStyle:{color:ink,width:3}},
    axisLabel:{show:c===0,customValues:latTicks,color:'#4d4d4d',fontSize:32,fontFamily:'Liberation Sans',margin:20,padding:[4,0,0,0]}});
  series.push({type:'custom',name:'heat'+idx,xAxisIndex:idx,yAxisIndex:idx,clip:true,silent:true,z:2,animation:false,
    encode:{x:0,y:1},data:panelData[idx],renderItem:(params,api)=>{
      const x=api.value(0),y=api.value(1);
      const a=api.coord([x-2.5,y+1.25]),b=api.coord([x+2.5,y-1.25]);
      const x0=Math.round(a[0]),y0=Math.round(a[1]),x1=Math.round(b[0]),y1=Math.round(b[1]);
      return {type:'rect',shape:{x:x0,y:y0,width:x1-x0,height:y1-y0},style:{fill:api.visual('color')}};
    }});
  const polySeries=(items,src,fill,z)=>({type:'custom',xAxisIndex:idx,yAxisIndex:idx,clip:true,silent:true,z,animation:false,
    encode:{x:0,y:1},data:items.map(it=>[0,0,it[0],it[1]]),renderItem:(params,api)=>{
      const pts=src[api.value(2)].map(p=>api.coord([p[0]+api.value(3),p[1]]));
      return {type:'polygon',shape:{points:pts},style:{fill,stroke:fill,lineWidth:0.5}};
    }});
  series.push(polySeries(landItems,landPolygons,'#000000',3));
  series.push(polySeries(lakeItems,lakePolygons,'#ffffff',4));
  series.push({type:'custom',xAxisIndex:idx,yAxisIndex:idx,clip:true,silent:true,z:5,animation:false,
    encode:{x:0,y:1},data:borderItems.map(it=>[0,0,it[0],it[1]]),renderItem:(params,api)=>{
      const pts=borderLines[api.value(2)].map(p=>api.coord([p[0]+api.value(3),p[1]]));
      return {type:'polyline',shape:{points:pts},style:{fill:null,stroke:'#4a4a4a',lineWidth:1}};
    }});
  graphics.push({type:'rect',z:50,silent:true,shape:{x:colLeft[c],y:rowTop[r],width:panelW,height:panelH[r]},style:{fill:null,stroke:ink,lineWidth:2}});
  graphics.push({type:'text',z:51,silent:true,x:colLeft[c]+56,y:rowTop[r]+302,style:{text:panelLetters[idx],font:'54px "Liberation Sans"',fill:'#000',align:'center',verticalAlign:'middle'}});
}
const heatIdx=series.map((s,i)=>s.name&&s.name.startsWith('heat')?i:-1).filter(i=>i>=0);

// legend bar
const lg=grids.length;
grids.push({left:936,top:1354,width:319,height:65,show:false});
xAxes.push({type:'value',gridIndex:lg,position:'bottom',min:0,max:100,z:10,splitLine:{show:false},axisLine:{show:true,onZero:false,lineStyle:{color:'rgba(0,0,0,0)'}},
  axisTick:{show:true,inside:true,length:13,customValues:[25,50,75],lineStyle:{color:'#fff',width:1.5}},
  axisLabel:{customValues:colorTicks,color:'#000',fontSize:32,fontFamily:'Liberation Sans',margin:17}});
xAxes.push({type:'value',gridIndex:lg,position:'top',min:0,max:100,z:10,splitLine:{show:false},axisLine:{show:true,onZero:false,lineStyle:{color:'rgba(0,0,0,0)'}},
  axisTick:{show:true,inside:true,length:13,customValues:[25,50,75],lineStyle:{color:'#fff',width:1.5}},axisLabel:{show:false}});
yAxes.push({type:'value',gridIndex:lg,min:0,max:1,show:false});
series.push({type:'custom',xAxisIndex:lg,yAxisIndex:lg,silent:true,z:2,animation:false,encode:{x:[0,1]},data:[[0,100]],
  renderItem:(p,api)=>{
    const a=api.coord([api.value(0),1]),b=api.coord([api.value(1),0]);
    return {type:'rect',shape:{x:a[0],y:a[1],width:b[0]-a[0],height:b[1]-a[1]},
      style:{fill:new echarts.graphic.LinearGradient(0,0,1,0,viridis.map((color,i)=>({offset:i/(viridis.length-1),color})))}};
  }});

// strips
const stripFont='32.5px "Liberation Sans"';
columnTitles.forEach((t,c)=>{
  graphics.push({type:'rect',z:40,silent:true,shape:{x:colLeft[c],y:51,width:panelW,height:61},style:{fill:'#d9d9d9',stroke:ink,lineWidth:2}});
  graphics.push({type:'text',z:41,silent:true,x:colLeft[c]+panelW/2,y:84,style:{text:t,font:stripFont,fill:'#1a1a1a',align:'center',verticalAlign:'middle'}});
});
rowTitles.forEach((t,r)=>{
  graphics.push({type:'rect',z:40,silent:true,shape:{x:1684,y:rowTop[r],width:61,height:panelH[r]},style:{fill:'#d9d9d9',stroke:ink,lineWidth:2}});
  graphics.push({type:'text',z:41,silent:true,x:1711,y:rowTop[r]+panelH[r]/2,rotation:-Math.PI/2,style:{text:t,font:stripFont,fill:'#1a1a1a',align:'center',verticalAlign:'middle'}});
});
graphics.push({type:'text',z:41,silent:true,x:878,y:1273,style:{text:'Longitude (ºE)',font:'41px "Liberation Sans"',fill:'#000',align:'center',verticalAlign:'middle'}});
graphics.push({type:'text',z:41,silent:true,x:502,y:1410,style:{
  text:'{a|Production (gC m}{s|−2}{a|y}{s|−1}{a|)}',align:'left',verticalAlign:'middle',fill:'#000',
  rich:{a:{font:'40.5px "Liberation Sans"',fill:'#000',lineHeight:52,verticalAlign:'bottom'},s:{font:'29px "Liberation Sans"',fill:'#000',lineHeight:52,verticalAlign:'top'}}}});
graphics.push({type:'text',z:41,silent:true,x:1433,y:1470,style:{text:'CSDN @生信学习者1',font:'33.5px "Liberation Sans","Noto Sans CJK SC"',fill:'#dcdcdc',align:'left',verticalAlign:'middle'}});

const chart=echarts.init(document.getElementById('c'),null,{renderer:'canvas'});
chart.setOption({animation:false,backgroundColor:'#fff',grid:grids,xAxis:xAxes,yAxis:yAxes,series,
  visualMap:{show:false,type:'continuous',min:0,max:100,dimension:2,seriesIndex:heatIdx,inRange:{color:viridis}},
  graphic:{elements:graphics}});
</script></body></html>
